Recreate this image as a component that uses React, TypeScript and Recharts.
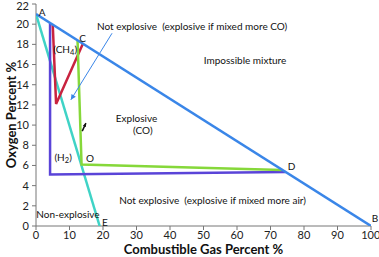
import React from 'react';
import { ComposedChart, Scatter, XAxis, YAxis, ReferenceDot, Label } from 'recharts';

// Boundary lines of the flammability diagram (x = combustible gas %, y = O2 %)
const airLine = [{ x: 0, y: 21 }, { x: 100, y: 0 }];
const nonExplosiveLine = [{ x: 0, y: 21 }, { x: 19, y: 0 }];
const h2Limit = [{ x: 4.2, y: 20.1 }, { x: 4.2, y: 5.1 }, { x: 74.5, y: 5.35 }];
const ch4Limit = [{ x: 5, y: 19.95 }, { x: 6, y: 12.1 }, { x: 14, y: 18.05 }];
const coLimit = [{ x: 12.4, y: 18.4 }, { x: 13.6, y: 6.1 }, { x: 73.5, y: 5.55 }];

// Annotation arrows
const blueArrow = [{ x: 22.7, y: 19.1 }, { x: 10.4, y: 12.5 }];
const blackArrow = [{ x: 13.8, y: 9.4 }, { x: 14.9, y: 10.2 }];

const xTicks = [0, 10, 20, 30, 40, 50, 60, 70, 80, 90, 100];
const yTicks = [0, 2, 4, 6, 8, 10, 12, 14, 16, 18, 20, 22];

// Text annotations: label, centre x, centre y (data units)
const notes: { text: string; sub?: string; x: number; y: number }[] = [
  { text: 'A', x: 1.8, y: 21.2 },
  { text: 'C', x: 13.9, y: 18.6 },
  { text: '(CH', sub: '4', x: 8.7, y: 17.5 },
  { text: 'Not explosive  (explosive if mixed more CO)', x: 46.6, y: 19.8 },
  { text: 'Impossible mixture', x: 62.4, y: 16.5 },
  { text: 'Explosive', x: 30.0, y: 10.75 },
  { text: '(CO)', x: 31.9, y: 9.55 },
  { text: '(H', sub: '2', x: 8.1, y: 6.86 },
  { text: 'O', x: 16.1, y: 6.7 },
  { text: 'D', x: 76.3, y: 5.97 },
  { text: 'Not explosive  (explosive if mixed more air)', x: 52.7, y: 2.57 },
  { text: 'Non-explosive', x: 9.55, y: 1.19 },
  { text: 'E', x: 20.6, y: 0.43 },
  { text: 'B', x: 101.2, y: 0.76 },
];

const FONT = "Lato, 'Open Sans', sans-serif";

const noDot = () => <g />;

const arrowLine = (color: string, width: number, head: number) => (p: any) => {
  const pts = p.points || [];
  if (pts.length < 2) return <g />;
  const a = pts[0];
  const b = pts[pts.length - 1];
  const ang = Math.atan2(b.y - a.y, b.x - a.x);
  const l = { x: b.x - head * Math.cos(ang - 0.45), y: b.y - head * Math.sin(ang - 0.45) };
  const r = { x: b.x - head * Math.cos(ang + 0.45), y: b.y - head * Math.sin(ang + 0.45) };
  return (
    <g>
      <line x1={a.x} y1={a.y} x2={b.x} y2={b.y} stroke={color} strokeWidth={width} />
      <polygon points={`${b.x},${b.y} ${l.x},${l.y} ${r.x},${r.y}`} fill={color} />
    </g>
  );
};

const App: React.FC = () => {
  return (
    <div style={{ position: 'absolute', left: 0, top: 0, width: 379, height: 257, background: '#fff' }}>
      <ComposedChart width={379} height={257} margin={{ top: 4, right: 8, left: 0, bottom: 0 }}>
        <XAxis
          type="number"
          dataKey="x"
          domain={[0, 100]}
          ticks={xTicks}
          height={31}
          tickSize={4}
          tickMargin={1}
          stroke="#777"
          tick={{ fill: '#222', fontSize: 11, fontFamily: FONT }}
          allowDataOverflow
        >
          <Label
            value="Combustible Gas Percent %"
            position="insideBottom"
            offset={3}
            style={{ fontSize: 13, fontWeight: 700, fill: '#111', fontFamily: FONT }}
          />
        </XAxis>
        <YAxis
          type="number"
          dataKey="y"
          domain={[0, 22]}
          ticks={yTicks}
          width={36}
          tickSize={4}
          tickMargin={3}
          stroke="#777"
          tick={{ fill: '#222', fontSize: 11, fontFamily: FONT }}
          allowDataOverflow
        >
          <Label
            value="Oxygen Percent %"
            angle={-90}
            position="insideLeft"
            offset={11}
            style={{ textAnchor: 'middle', fontSize: 13, fontWeight: 700, fill: '#111', fontFamily: FONT }}
          />
        </YAxis>

        <Scatter data={nonExplosiveLine} shape={noDot} line={{ stroke: '#3fd3c6', strokeWidth: 2.5 }} isAnimationActive={false} />
        <Scatter data={h2Limit} shape={noDot} line={{ stroke: '#5a44d8', strokeWidth: 2.5 }} isAnimationActive={false} />
        <Scatter data={ch4Limit} shape={noDot} line={{ stroke: '#c9233f', strokeWidth: 2.5 }} isAnimationActive={false} />
        <Scatter data={coLimit} shape={noDot} line={{ stroke: '#86d83a', strokeWidth: 2.5 }} isAnimationActive={false} />
        <Scatter data={airLine} shape={noDot} line={{ stroke: '#3a86e8', strokeWidth: 2.5 }} isAnimationActive={false} />
        <Scatter data={blueArrow} shape={noDot} line={arrowLine('#3a86e8', 1, 6)} isAnimationActive={false} />
        <Scatter data={blackArrow} shape={noDot} line={arrowLine('#111', 1.5, 4)} isAnimationActive={false} />

        {notes.map((n) => (
          <ReferenceDot
            key={n.text + n.x}
            x={n.x}
            y={n.y}
            r={0}
            ifOverflow="visible"
            shape={(p: any) => (
              <text
                x={p.cx}
                y={p.cy}
                textAnchor="middle"
                dominantBaseline="central"
                fontSize={10}
                fontFamily={FONT}
                fill="#111"
                style={{ whiteSpace: 'pre' }}
              >
                {n.text}
                {n.sub ? (
                  <>
                    <tspan fontSize={7.5} dy={3}>{n.sub}</tspan>
                    <tspan dy={-3}>)</tspan>
                  </>
                ) : null}
              </text>
            )}
          />
        ))}
      </ComposedChart>
    </div>
  );
};

export default App;
